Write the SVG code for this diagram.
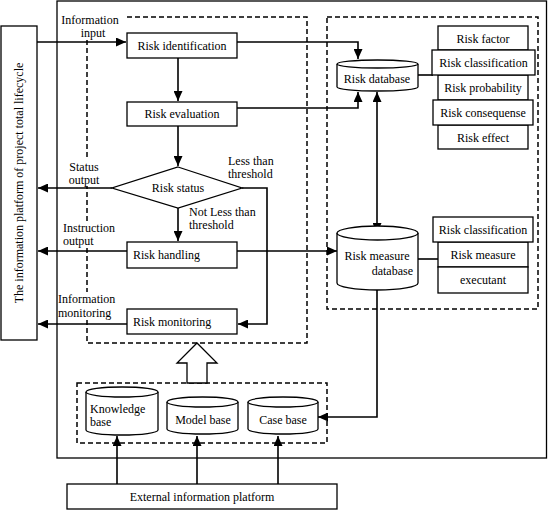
<svg xmlns="http://www.w3.org/2000/svg" width="548" height="510" viewBox="0 0 548 510">
<style>
text{font-family:"Liberation Serif","Times New Roman",serif;font-size:12px;fill:#000}
.b{fill:#fff;stroke:#000;stroke-width:1.3}
.d{fill:none;stroke:#000;stroke-width:1.5;stroke-dasharray:5,3}
.l{fill:none;stroke:#000;stroke-width:1.6}
.m{text-anchor:middle}
.w{fill:#fff;stroke:none}
</style>
<defs>
<marker id="a" markerUnits="userSpaceOnUse" markerWidth="10" markerHeight="9" refX="10" refY="4.5" orient="auto-start-reverse"><path d="M0,0 L10,4.5 L0,9 z" fill="#000"/></marker>
</defs>
<rect width="548" height="510" fill="#fff"/>
<g id="outer"><rect x="57" y="1" width="489.5" height="457" style="fill:none;stroke:#000;stroke-width:1.3"/></g>
<g id="platform"><rect x="1" y="26" width="36" height="314" class="b"/><text class="m" transform="translate(23,183) rotate(-90)">The information platform of project total lifecycle</text></g>
<g id="process-area"><rect x="87" y="17" width="220" height="326" class="d"/></g>
<g id="database-area"><rect x="327" y="17" width="211" height="292" class="d"/></g>
<g id="knowledge-area"><rect x="77" y="383" width="250" height="60" class="d"/></g>
<g id="labels">
<rect x="58" y="11" width="68" height="29" class="w"/>
<text class="m" x="90" y="24">Information</text><text class="m" x="93" y="37">input</text>
<rect x="66" y="160" width="36" height="26" class="w"/>
<text class="m" x="84" y="171">Status</text><text class="m" x="84" y="184">output</text>
<rect x="62" y="222" width="60" height="26" class="w"/>
<text x="63" y="232">Instruction</text><text x="63" y="245">output</text>
<rect x="58.7" y="292" width="64" height="28" class="w"/>
<text x="58" y="303">Information</text><text x="58" y="317">monitoring</text>
<text x="228" y="165">Less than</text><text x="228" y="178">threshold</text>
<text x="189" y="216">Not Less than</text><text x="189" y="229">threshold</text>
</g>
<g id="connectors">
<path class="l" d="M37,42 H126" marker-end="url(#a)"/>
<path class="l" d="M178,58 V101" marker-end="url(#a)"/>
<path class="l" d="M178,126 V166" marker-end="url(#a)"/>
<path class="l" d="M178,208 V241" marker-end="url(#a)"/>
<path class="l" d="M112,188 H38" marker-end="url(#a)"/>
<path class="l" d="M127,251 H38" marker-end="url(#a)"/>
<path class="l" d="M127,324 H38" marker-end="url(#a)"/>
<path class="l" d="M242,188 H267 V324 H238" marker-end="url(#a)"/>
<path class="l" d="M237,42 H358 V59" marker-end="url(#a)"/>
<path class="l" d="M237,108 H358 V92" marker-end="url(#a)"/>
<path class="l" d="M377,92 V233" marker-start="url(#a)" marker-end="url(#a)"/>
<path class="l" d="M237,251 H337" marker-end="url(#a)"/>
<path class="l" d="M377,290 V417 H318" marker-end="url(#a)"/>
<path class="l" d="M418,75 H433"/>
<path class="l" d="M418,259 H438"/>
<path class="l" d="M117,484 V436" marker-end="url(#a)"/>
<path class="l" d="M197,484 V436" marker-end="url(#a)"/>
<path class="l" d="M278,484 V436" marker-end="url(#a)"/>
<polygon points="187,383 207,383 207,363 217,363 197,343 177,363 187,363" class="b"/>
</g>
<g id="risk-identification"><rect x="127" y="33" width="110" height="25" class="b"/><text class="m" x="182" y="50">Risk identification</text></g>
<g id="risk-evaluation"><rect x="127" y="102" width="110" height="24" class="b"/><text class="m" x="182" y="118">Risk evaluation</text></g>
<g id="risk-status"><polygon points="178,167 242,188 178,208 112,188" class="b"/><text class="m" x="178" y="192">Risk status</text></g>
<g id="risk-handling"><rect x="127" y="242" width="110" height="26" class="b"/><text x="133" y="259">Risk handling</text></g>
<g id="risk-monitoring"><rect x="127" y="309" width="110" height="25" class="b"/><text x="133" y="326">Risk monitoring</text></g>
<g id="risk-database"><path class="b" d="M337,64 V87 A40.5,4 0 0 0 418,87 V64"/><ellipse cx="377.5" cy="64" rx="40.5" ry="4" class="b"/><text class="m" x="377" y="83">Risk database</text></g>
<g id="risk-attributes">
<rect x="438" y="26" width="90" height="24" class="b"/><text class="m" x="483" y="43">Risk factor</text>
<rect x="438" y="75" width="90" height="25" class="b"/><text class="m" x="483" y="92">Risk probability</text>
<rect x="438" y="125" width="90" height="24" class="b"/><text class="m" x="483" y="142">Risk effect</text>
<rect x="432" y="50" width="103" height="25" class="b"/><text class="m" x="483.5" y="67">Risk classification</text>
<rect x="433" y="100" width="100" height="25" class="b"/><text class="m" x="483" y="117">Risk consequense</text>
</g>
<g id="risk-measure-database"><path class="b" d="M337,233 V283 A40.5,7 0 0 0 418,283 V233"/><ellipse cx="377.5" cy="233" rx="40.5" ry="7" class="b"/><text class="m" x="377" y="260">Risk measure</text><text x="413" y="275" text-anchor="end">database</text></g>
<g id="measure-attributes">
<rect x="438" y="242" width="90" height="25" class="b"/><text class="m" x="483" y="259">Risk measure</text>
<rect x="438" y="267" width="90" height="26" class="b"/><text class="m" x="483" y="284">executant</text>
<rect x="433" y="217" width="100" height="25" class="b"/><text class="m" x="483" y="234">Risk classification</text>
</g>
<g id="knowledge-base"><path class="b" d="M86,392 V430 A36,5 0 0 0 158,430 V392"/><ellipse cx="122" cy="392" rx="36" ry="5" class="b"/><text x="90" y="413">Knowledge</text><text x="90" y="426">base</text></g>
<g id="model-base"><path class="b" d="M167,402 V429 A35.5,5 0 0 0 238,429 V402"/><ellipse cx="202.5" cy="402" rx="35.5" ry="5" class="b"/><text class="m" x="203" y="424">Model base</text></g>
<g id="case-base"><path class="b" d="M248,402 V429 A35,5 0 0 0 318,429 V402"/><ellipse cx="283" cy="402" rx="35" ry="5" class="b"/><text class="m" x="283" y="424">Case base</text></g>
<g id="external-platform"><rect x="67" y="484" width="270" height="25" class="b"/><text class="m" x="202" y="501">External information platform</text></g>
</svg>
